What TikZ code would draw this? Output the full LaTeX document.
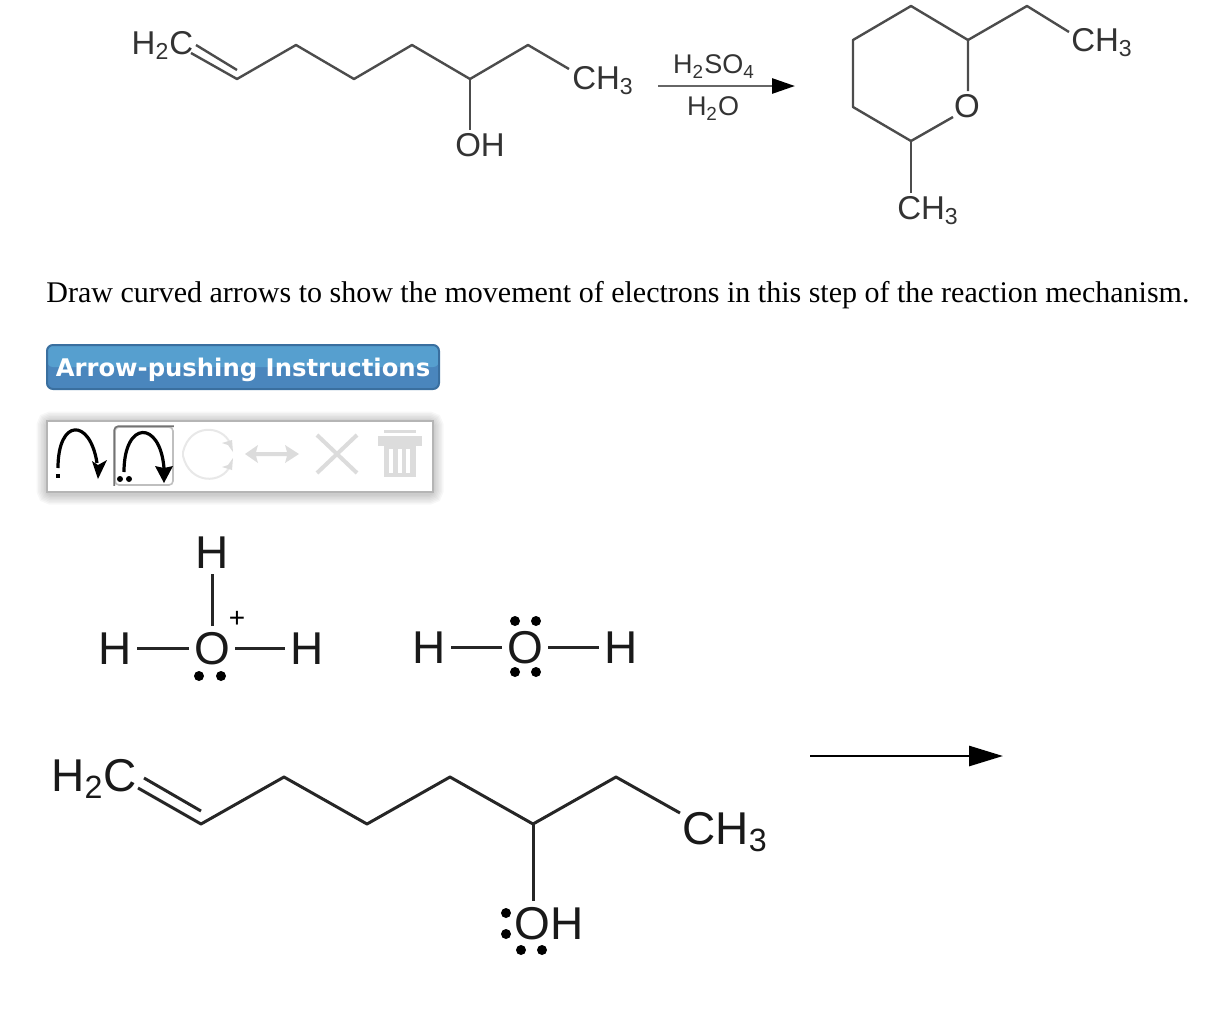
\documentclass[tikz,border=0pt]{standalone}
\usepackage{fontspec}
\setmainfont{Liberation Serif}
\setsansfont{Liberation Sans}
\newfontfamily\btnfont{DejaVu Sans}
\usetikzlibrary{arrows.meta}
\definecolor{btntop}{HTML}{569FCF}
\definecolor{btnlow}{HTML}{4A86BD}
\definecolor{btnrim}{HTML}{3A6F9F}
\definecolor{toolrim}{HTML}{B5B5B5}
\definecolor{faded}{HTML}{DCDCDC}
\definecolor{fainter}{HTML}{E8E8E8}
\tikzset{
    small/.style={font=\sffamily\fontsize{16.5}{18}\selectfont, text=black!80, inner sep=2pt, text height=11.8pt, text depth=0pt},
    tiny/.style={font=\sffamily\fontsize{13.5}{15}\selectfont, text=black!80, inner sep=2pt, text height=9.7pt, text depth=0pt},
    large/.style={font=\sffamily\fontsize{23}{25}\selectfont, text=black!90, inner sep=2.5pt, text height=16.5pt, text depth=0pt},
    bondlight/.style={draw=black!70, line width=1.2pt, line join=round},
    bonddark/.style={draw=black!85, line width=1.5pt, line join=round},
    vertex/.style={inner sep=0pt, minimum size=0pt},
    faint/.style={draw=fainter, line width=1pt}
}
\begin{document}
\begin{tikzpicture}[x=0.5pt, y=-0.5pt]
    \useasboundingbox (0, 0) rectangle (1216, 1018);

    \node (ha) at (162.5, 43) [small] {H\textsubscript{2}C};
    \node (a1) at (237, 79) [vertex] {};
    \node (a2) at (296, 45) [vertex] {};
    \node (a3) at (354, 79) [vertex] {};
    \node (a4) at (412, 45) [vertex] {};
    \node (a5) at (470, 79) [vertex] {};
    \node (a6) at (528, 45) [vertex] {};
    \node (a7) at (569, 69) [vertex] {};
    \node (a8) at (191, 53) [vertex] {};
    \node (a9) at (196, 45) [vertex] {};
    \node (a10) at (237, 70) [vertex] {};
    \node (mea) at (603, 78) [small] {CH\textsubscript{3}};
    \node (oha) at (480, 145) [small] {OH};
    \draw [bondlight] (a8.center) -- (a1.center) -- (a2.center) -- (a3.center) -- (a4.center) -- (a5.center) -- (a6.center) -- (a7.center);
    \draw [bondlight] (a9.center) -- (a10.center);
    \node (a11) at (470, 130) [vertex] {};
    \draw [bondlight] (a5.center) -- (a11.center);

    \node (s) at (658, 86) [vertex] {};
    \node (t) at (795, 86) [vertex] {};
    \draw [draw=black!60, line width=1.4pt, -{Stealth[length=11.5pt, width=7.5pt, inset=0pt, black]}] (s.center) -- (t.center);
    \node (acid) at (714, 64) [tiny] {H\textsubscript{2}SO\textsubscript{4}};
    \node (water) at (713, 106) [tiny] {H\textsubscript{2}O};

    \node (r1) at (911, 6) [vertex] {};
    \node (r2) at (968, 40) [vertex] {};
    \node (r3) at (968, 91) [vertex] {};
    \node (ox) at (967, 106) [small] {O};
    \node (r4) at (953, 117) [vertex] {};
    \node (r5) at (911, 141) [vertex] {};
    \node (r6) at (853, 107) [vertex] {};
    \node (r7) at (853, 40) [vertex] {};
    \node (r8) at (1027, 6) [vertex] {};
    \node (r9) at (1069, 32) [vertex] {};
    \node (r10) at (911, 193) [vertex] {};
    \node (meb) at (1102, 40) [small] {CH\textsubscript{3}};
    \node (mec) at (928, 208) [small] {CH\textsubscript{3}};
    \draw [bondlight] (r3.center) -- (r2.center) -- (r1.center) -- (r7.center) -- (r6.center) -- (r5.center) -- (r4.center);
    \draw [bondlight] (r2.center) -- (r8.center) -- (r9.center);
    \draw [bondlight] (r5.center) -- (r10.center);

    \node (task) at (46, 292) [anchor=west, inner sep=0pt, yshift=-1.5pt, font=\fontsize{15}{18}\selectfont] {Draw curved arrows to show the movement of electrons in this step of the reaction mechanism.};

    \node (btn) at (243, 367) [draw=btnrim, line width=1pt, rounded corners=3pt, fill=btnlow, minimum width=196pt, minimum height=22pt, inner sep=0pt, text=white, text depth=0pt, font=\btnfont\bfseries\fontsize{12.15}{15}\selectfont,
        path picture={\fill [btntop] (path picture bounding box.north west) rectangle (path picture bounding box.east);}] {Arrow-pushing Instructions};

    \foreach \k in {1, ..., 7} {
        \draw [black, opacity=0.03, line width=\k*1.5pt, rounded corners=2pt] (47, 422) rectangle (433, 494);
    }
    \node (tool) at (240, 456.5) [draw=toolrim, line width=1pt, fill=white, minimum width=193pt, minimum height=35.5pt, inner sep=0pt] {};

    \draw [black, line width=1.6pt] (58, 468) .. controls (58, 418) and (90, 418) .. (97, 463);
    \fill [black] (98, 479) -- (92, 461) -- (98, 465) -- (107, 460) -- cycle;
    \fill [black] (56, 474) rectangle (60, 478);

    \node (pick) at (144, 456) [draw=black!25, line width=0.8pt, rounded corners=2pt, minimum width=29pt, minimum height=29pt, inner sep=0pt] {};
    \draw [black!55, line width=0.8pt, rounded corners=2pt] (pick.south west) -- (pick.north west) -- (pick.north east);
    \draw [black, line width=1.6pt] (124, 472) .. controls (124, 420) and (160, 420) .. (164, 468);
    \fill [black] (164, 483) -- (155, 466) -- (164, 468) -- (173, 466) -- cycle;
    \fill [black] (120, 479) circle (1.5pt);
    \fill [black] (129, 479) circle (1.5pt);

    \draw [faint] (230, 443) .. controls (222, 425) and (190, 423) .. (183, 452);
    \draw [faint] (230, 466) .. controls (222, 484) and (190, 485) .. (183, 456);
    \draw [faint] (183, 452) -- (183, 456);
    \fill [faded] (233, 452) -- (232, 440) -- (222, 443) -- (228, 445) -- cycle;
    \fill [faded] (233, 458) -- (232, 470) -- (222, 467) -- (228, 465) -- cycle;

    \fill [faded] (245, 454) -- (258, 445) -- (256, 452) -- (287, 452) -- (285, 445) -- (299, 454) -- (285, 463) -- (287, 456) -- (256, 456) -- (258, 463) -- cycle;

    \draw [draw=faded, line width=2pt] (317, 435) -- (357, 473);
    \draw [draw=faded, line width=2pt] (357, 435) -- (317, 473);

    \fill [faded] (384, 430) rectangle (416, 433);
    \fill [faded] (378, 436) rectangle (422, 446);
    \fill [faded] (384, 446) rectangle (416, 477);
    \foreach \x in {389, 398, 406} {
        \fill [white] (\x, 449) rectangle (\x+3.5, 473);
    }

    \node (h1) at (212, 552) [large] {H};
    \node (o1) at (212, 648) [large] {O};
    \node (h2) at (115, 648) [large] {H};
    \node (h3) at (307, 648) [large] {H};
    \draw [bonddark] (o1) -- (h1);
    \draw [bonddark] (o1) -- (h2);
    \draw [bonddark] (o1) -- (h3);
    \node (plus) at (237, 619) [font=\sffamily\fontsize{14}{16}\selectfont, inner sep=0pt] {+};
    \fill [black] (199, 676) circle (2.5pt);
    \fill [black] (221, 676) circle (2.5pt);

    \node (h4) at (429, 647) [large] {H};
    \node (o2) at (525, 647) [large] {O};
    \node (h5) at (621, 647) [large] {H};
    \draw [bonddark] (o2) -- (h4);
    \draw [bonddark] (o2) -- (h5);
    \foreach \x in {515, 536} {
        \fill [black] (\x, 621) circle (2.5pt);
        \fill [black] (\x, 672) circle (2.5pt);
    }

    \node (hb) at (94, 775) [large] {H\textsubscript{2}C};
    \node (b1) at (201, 824) [vertex] {};
    \node (b2) at (284, 777) [vertex] {};
    \node (b3) at (367, 824) [vertex] {};
    \node (b4) at (450, 777) [vertex] {};
    \node (b5) at (533, 824) [vertex] {};
    \node (b6) at (616, 777) [vertex] {};
    \node (b7) at (680, 813) [vertex] {};
    \node (b8) at (138, 788) [vertex] {};
    \node (b9) at (144, 778) [vertex] {};
    \node (b10) at (201, 811) [vertex] {};
    \node (b11) at (533, 901) [vertex] {};
    \node (med) at (725, 828) [large] {CH\textsubscript{3}};
    \node (ohb) at (549, 923) [large] {OH};
    \draw [bonddark] (b8.center) -- (b1.center) -- (b2.center) -- (b3.center) -- (b4.center) -- (b5.center) -- (b6.center) -- (b7.center);
    \draw [bonddark] (b9.center) -- (b10.center);
    \draw [bonddark] (b5.center) -- (b11.center);
    \fill [black] (506, 913) circle (2.5pt);
    \fill [black] (506, 934) circle (2.5pt);
    \fill [black] (521, 950) circle (2.5pt);
    \fill [black] (542, 950) circle (2.5pt);

    \node (u) at (810, 756) [vertex] {};
    \node (w) at (1003, 756) [vertex] {};
    \draw [black, line width=1.4pt, -{Stealth[length=17pt, width=10pt, inset=0pt]}] (u.center) -- (w.center);
\end{tikzpicture}
\end{document}
